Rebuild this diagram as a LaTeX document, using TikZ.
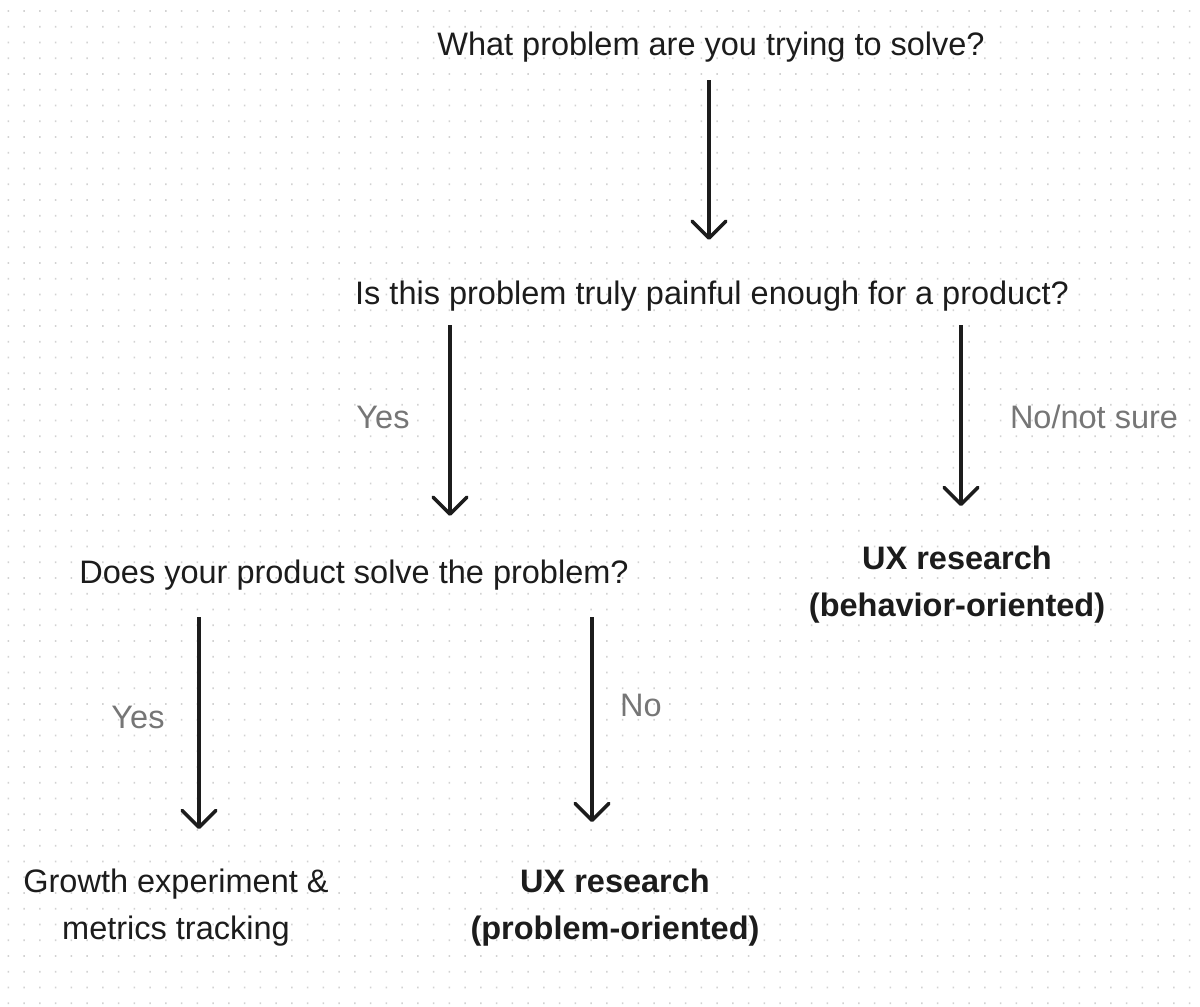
\documentclass[tikz,border=0pt]{standalone}
\usepackage{fontspec}
\setmainfont{Liberation Sans}
\usetikzlibrary{arrows.meta}
\definecolor{ink}{HTML}{1C1C1C}
\definecolor{lbl}{HTML}{767676}
\definecolor{gridc}{HTML}{D2D2D2}
\tikzset{
  txt/.style={inner sep=0pt, text=ink, font=\fontsize{32.5}{47}\selectfont, align=center},
  one/.style={txt, text height=22pt, text depth=6pt},
  res/.style={txt, font=\fontsize{32.5}{47}\selectfont\bfseries},
  lab/.style={one, text=lbl},
  arr/.style={draw=ink, line width=3.5pt, -{Straight Barb[length=17pt,width=34pt,round]}}
}
\begin{document}
\begin{tikzpicture}[x=1pt,y=-1pt]
\useasboundingbox (0,0) rectangle (1200,1007);
\fill[white] (0,0) rectangle (1200,1007);
\foreach \j in {0,...,63} {
  \fill[gridc] \foreach \i in {0,...,75} { (7.5+15.75*\i, 10.2+15.75*\j) rectangle ++(1.7,1.7) };
}

\node[one] (t1) at (711,47) {What problem are you trying to solve?};
\node[one] (t2) at (712,296) {Is this problem truly painful enough for a product?};
\node[one] (t3) at (354,575) {Does your product solve the problem?};
\node[res] (ux1) at (957,585) {UX research\\(behavior-oriented)};
\node[txt] (gr) at (176,908) {Growth experiment \&\\metrics tracking};
\node[res] (ux2) at (615,908) {UX research\\(problem-oriented)};

\node[lab] (y1) at (383,420) {Yes};
\node[lab] (n1) at (1094,420) {No/not sure};
\node[lab] (y2) at (138,720) {Yes};
\node[lab] (n2) at (641,708) {No};

\draw[arr] ([xshift=-2pt,yshift=-19pt]t1.south) -- ([xshift=-3pt,yshift=42pt]t2.north);
\draw[arr] ([xshift=-262pt,yshift=-15pt]t2.south) -- ([xshift=96pt,yshift=45pt]t3.north);
\draw[arr] ([xshift=249pt,yshift=-15pt]t2.south) -- ([xshift=4pt,yshift=40pt]ux1.north);
\draw[arr] ([xshift=-155pt,yshift=-28pt]t3.south) -- ([xshift=23pt,yshift=40pt]gr.north);
\draw[arr] ([xshift=238pt,yshift=-28pt]t3.south) -- ([xshift=-23pt,yshift=47pt]ux2.north);
\end{tikzpicture}
\end{document}
